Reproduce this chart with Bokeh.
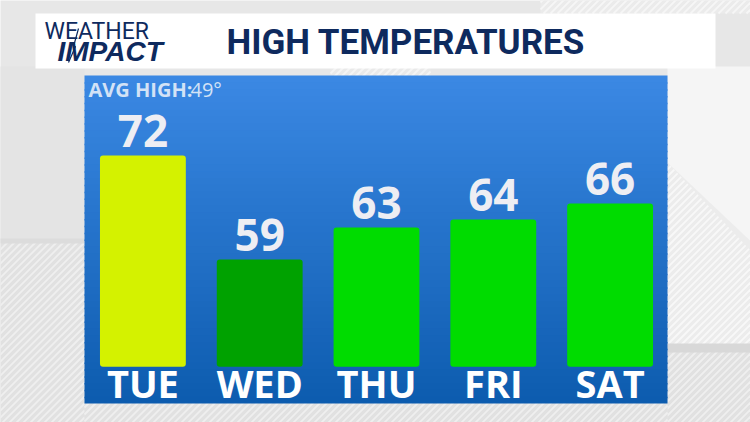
import numpy as np
from bokeh.plotting import figure
from bokeh.models import Range1d
from bokeh.core.properties import value
from bokeh.embed import file_html
from bokeh.resources import INLINE

# ---- data ----
days = ["TUE", "WED", "THU", "FRI", "SAT"]
highs = [72, 59, 63, 64, 66]
bar_colors = ["#d4f200", "#00a200", "#00dc00", "#00dc00", "#00dc00"]
avg_high = 49
title = "HIGH TEMPERATURES"

# ---- layout calibration (image pixels -> data units) ----
W, H = 750, 422
CAT_PX, X0_PX = 116.8, 142.4          # px per category, px of first category centre
DEG_PX, YREF_PX, YREF = 8.0, 155.0, 72.0
BASE = 45.6                            # temperature at the bars' baseline
BL = 0.39                              # svg baseline correction (em)


def dx(ix):
    return (ix - X0_PX) / CAT_PX


def dy(iy):
    return YREF - (iy - YREF_PX) / DEG_PX


def ty(iy, size):
    return dy(iy - BL * size)


p = figure(width=W, height=H,
           x_range=Range1d(dx(0), dx(W)), y_range=Range1d(dy(H), dy(0)),
           output_backend="svg", toolbar_location=None, min_border=0,
           x_axis_location=None, y_axis_location=None,
           background_fill_color="#e7e7e7", border_fill_color="#e7e7e7",
           outline_line_color=None)
p.grid.visible = False


def stripes(l, r, t, b, step=7.0, diag=None):
    """diagonal '/' stripe segments inside a pixel rectangle"""
    xs, ys = [], []
    c = l + t
    while c <= r + b:
        x0 = max(l, c - b)
        x1 = min(r, c - t)
        if diag is not None:
            (ax, ay), (bx, by) = diag
            k = (by - ay) / (bx - ax)
            x1 = min(x1, (c - ay + k * ax) / (1 + k))
        if x1 > x0:
            xs.append([dx(x0), dx(x1)])
            ys.append([dy(c - x0), dy(c - x1)])
        c += step
    return xs, ys


def hatch_rect(l, r, t, b, base="#e1e1e1", line="#efefef", diag=None, fill=True):
    if fill:
        p.quad(left=[dx(l)], right=[dx(r)], bottom=[dy(b)], top=[dy(t)],
               fill_color=base, line_color=None)
    xs, ys = stripes(l, r, t, b, diag=diag)
    p.multi_line(xs=xs, ys=ys, line_color=line, line_width=1.8)


# background decoration
p.quad(left=[dx(-5)], right=[dx(84)], bottom=[dy(240)], top=[dy(66)], fill_color="#e4e4e4", line_color=None)
hatch_rect(-5, 84, 240, 430)
p.quad(left=[dx(-5)], right=[dx(84)], bottom=[dy(243)], top=[dy(238)], fill_color="#dcdcdc", line_color=None)
p.quad(left=[dx(667)], right=[dx(760)], bottom=[dy(345)], top=[dy(66)], fill_color="#f5f5f5", line_color=None)
p.patch([dx(667), dx(760), dx(760), dx(667)], [dy(162), dy(250), dy(345), dy(345)],
        fill_color="#ececec", line_color=None)
hatch_rect(667, 760, 162, 345, base="#ececec", line="#f8f8f8", diag=((667, 162), (750, 250)), fill=False)
hatch_rect(667, 760, 345, 430)
p.quad(left=[dx(667)], right=[dx(760)], bottom=[dy(352)], top=[dy(343)], fill_color="#d8d8d8", line_color=None)
hatch_rect(84, 667, 400, 430)
hatch_rect(540, 760, -5, 13, base="#ebebeb", line="#f6f6f6")
hatch_rect(330, 430, 66, 76, base="#e9e9e9", line="#f4f4f4")

# header box
p.quad(left=[dx(35)], right=[dx(715)], bottom=[dy(68)], top=[dy(13)], fill_color="white", line_color=None)

# blue panel with vertical gradient
n = 48
edges = np.linspace(75, 403, n + 1)
c0 = np.array([0x3b, 0x88, 0xe3])
c1 = np.array([0x0d, 0x5c, 0xaf])
cols = []
for k in range(n):
    t = k / (n - 1)
    c = (c0 * (1 - t) + c1 * t).round().astype(int)
    cols.append("#%02x%02x%02x" % tuple(c))
bot = [dy(e + 1.5) for e in edges[1:]]
bot[-1] = dy(403)
p.quad(left=[dx(84)] * n, right=[dx(667)] * n,
       top=[dy(e) for e in edges[:-1]], bottom=bot,
       fill_color=cols, line_color=None)

# bars
idx = list(range(len(days)))
p.vbar(x=idx, top=highs, bottom=BASE, width=0.735, fill_color=bar_colors,
       line_color=None, border_radius=3)

# value labels
VS = 44
p.text(x=idx, y=[h + (7 + BL * VS) / DEG_PX for h in highs], text=[str(h) for h in highs],
       text_align="center", text_baseline="alphabetic",
       text_font=value("Open Sans"), text_font_style="bold",
       text_font_size="%dpx" % VS, text_color="#eeeef3")

# day labels
DS = 38
p.text(x=idx, y=[ty(397, DS)] * len(days), text=days,
       text_align="center", text_baseline="alphabetic",
       text_font=value("Open Sans"), text_font_style="bold",
       text_font_size="%dpx" % DS, text_color="#ffffff")

# avg high label
AS = 20
p.text(x=[dx(88)], y=[ty(97, AS)], text=["AVG HIGH:"], text_align="left",
       text_baseline="alphabetic", text_font=value("Open Sans"),
       text_font_style="bold", text_font_size="%dpx" % AS, text_color="#d3e2f6")
p.text(x=[dx(190)], y=[ty(97, AS)], text=["%d°" % avg_high], text_align="left",
       text_baseline="alphabetic", text_font=value("Open Sans"),
       text_font_size="%dpx" % AS, text_color="#d3e2f6")

# title
TS = 35
p.text(x=[dx(226)], y=[ty(56, TS)], text=[title], text_align="left",
       text_baseline="alphabetic", text_font=value("Roboto"),
       text_font_style="bold", text_font_size="%dpx" % TS, text_color="#0e2a5e")

# logo
LS = 23
p.text(x=[dx(44)], y=[ty(40, LS)], text=["WEATHER"], text_align="left",
       text_baseline="alphabetic", text_font=value("Roboto"),
       text_font_size="%dpx" % LS, text_color="#0e2a5e")
IS = 28
p.text(x=[dx(57)], y=[ty(62, IS)], text=["IMPACT"], text_align="left",
       text_baseline="alphabetic", text_font=value("Liberation Sans"),
       text_font_style="bold italic", text_font_size="%dpx" % IS, text_color="#0e2a5e")
p.line(x=[dx(78), dx(73), dx(75), dx(68)], y=[dy(28), dy(46), dy(46), dy(62)],
       line_color="#0e2a5e", line_width=1.2)

open("out.html", "w").write(file_html(p, INLINE))
